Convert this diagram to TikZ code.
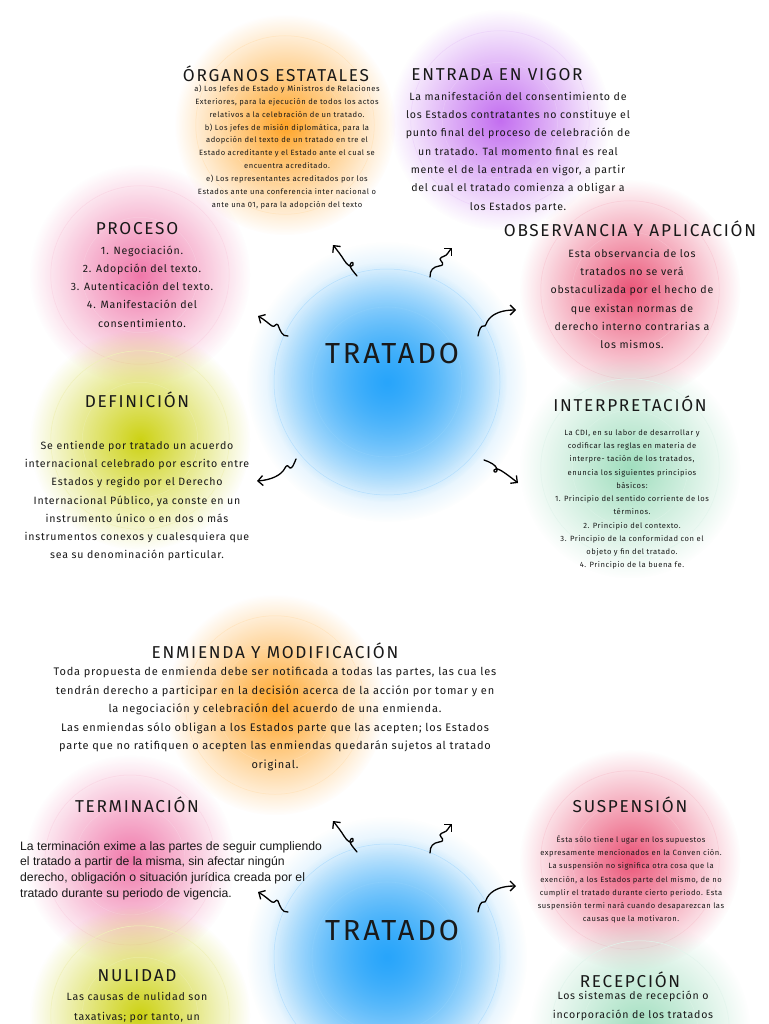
\documentclass[tikz,border=0pt]{standalone}
\usepackage{fontspec}
\setmainfont{Fira Sans}
\newfontfamily\ttlfont[LetterSpace=10]{Fira Sans}
\newfontfamily\bdyfont[LetterSpace=7]{Fira Sans}
\newfontfamily\arialfont{Liberation Sans}
\usetikzlibrary{arrows.meta,fadings}
\tikzfading[name=blobfade, inner color=transparent!0, outer color=transparent!100]
\definecolor{orgC}{RGB}{255,165,40}
\definecolor{entC}{RGB}{195,110,240}
\definecolor{proC}{RGB}{240,120,170}
\definecolor{obsC}{RGB}{235,85,120}
\definecolor{defC}{RGB}{205,210,20}
\definecolor{intC}{RGB}{160,222,190}
\definecolor{hubC}{RGB}{40,165,250}
\definecolor{txtC}{RGB}{25,25,25}
\newcommand\myblob[4]{%
  \fill[#4, path fading=blobfade] (#1,#2) circle[radius={1.05*#3pt}];
  \draw[#4!40, line width=0.5pt] (#1,#2) circle[radius={0.55*#3pt}];
  \draw[#4!30, line width=0.5pt] (#1,#2) circle[radius={0.85*#3pt}];
}
\tikzset{
  ttl/.style={font=\ttlfont\fontsize{17.2}{18}\selectfont, inner sep=0pt, text=txtC},
  bigttl/.style={font=\ttlfont\fontsize{29}{32}\selectfont, inner sep=0pt, text=txtC},
  body/.style={font=\bdyfont\fontsize{10.6}{18.3}\selectfont, align=center, inner sep=0pt, text=txtC},
  smallbody/.style={font=\bdyfont\fontsize{7.6}{12.9}\selectfont, align=center, inner sep=0pt, text=txtC},
  arialbody/.style={font=\arialfont\fontsize{12.2}{15.8}\selectfont, align=left, inner sep=0pt, text=txtC},
  sq/.style={draw=black, line width=1.3pt, line cap=round, line join=round, -{Straight Barb[length=5pt,width=10pt]}},
}
\begin{document}
\begin{tikzpicture}[x=1pt,y=-1pt]
\useasboundingbox (0,0) rectangle (768,1024);
\clip (0,0) rectangle (768,1024);
\fill[white] (0,0) rectangle (768,1024);
% ---------- blobs ----------
\myblob{285}{125}{105}{orgC}
\myblob{500}{120}{105}{entC}
\myblob{140}{275}{105}{proC}
\myblob{630}{290}{105}{obsC}
\myblob{140}{440}{105}{defC}
\myblob{630}{468}{105}{intC}
\myblob{275}{705}{105}{orgC}
\myblob{130}{860}{100}{proC}
\myblob{630}{860}{105}{obsC}
\myblob{140}{1015}{105}{defC}
\myblob{640}{1030}{105}{intC}
% hubs
\fill[hubC!70, path fading=blobfade] (387,382) circle[radius=140pt];
\fill[hubC, path fading=blobfade] (387,382) circle[radius=120pt];
\draw[hubC!55, line width=0.6pt] (387,382) circle[radius=75pt];
\draw[hubC!35, line width=0.5pt] (387,382) circle[radius=113pt];
\fill[hubC!70, path fading=blobfade] (387,957) circle[radius=140pt];
\fill[hubC, path fading=blobfade] (387,957) circle[radius=120pt];
\draw[hubC!55, line width=0.6pt] (387,957) circle[radius=75pt];
\draw[hubC!35, line width=0.5pt] (387,957) circle[radius=113pt];
% ---------- hub nodes ----------
\node[bigttl] (hub1) at (392,354) {TRATADO};
\node[bigttl] (hub2) at (392,930) {TRATADO};
% ---------- titles ----------
\node[ttl] (orgT) at (276,74) {ÓRGANOS ESTATALES};
\node[ttl] (entT) at (497,75) {ENTRADA EN VIGOR};
\node[ttl] (proT) at (137,229) {PROCESO};
\node[ttl] (obsT) at (630,229) {OBSERVANCIA Y APLICACIÓN};
\node[ttl] (defT) at (137,400) {DEFINICIÓN};
\node[ttl] (intT) at (630,404) {INTERPRETACIÓN};
\node[ttl] (enmT) at (275,651) {ENMIENDA Y MODIFICACIÓN};
\node[ttl] (terT) at (137,805) {TERMINACIÓN};
\node[ttl] (susT) at (630,805) {SUSPENSIÓN};
\node[ttl] (nulT) at (137,976) {NULIDAD};
\node[ttl] (recT) at (630,980) {RECEPCIÓN};
% ---------- bodies ----------
\node[smallbody] (orgB) at (287,147) {a) Los Jefes de Estado y Ministros de Relaciones\\
Exteriores, para la ejecución de todos los actos\\
relativos a la celebración de un tratado.\\
b) Los jefes de misión diplomática, para la\\
adopción del texto de un tratado en tre el\\
Estado acreditante y el Estado ante el cual se\\
encuentra acreditado.\\
e) Los representantes acreditados por los\\
Estados ante una conferencia inter nacional o\\
ante una 01, para la adopción del texto};
\node[body] (entB) at (518,152) {La manifestación del consentimiento de\\
los Estados contratantes no constituye el\\
punto final del proceso de celebración de\\
un tratado. Tal momento final es real\\
mente el de la entrada en vigor, a partir\\
del cual el tratado comienza a obligar a\\
los Estados parte.};
\node[body] (proB) at (142,286.5) {1. Negociación.\\
2. Adopción del texto.\\
3. Autenticación del texto.\\
4. Manifestación del\\
consentimiento.};
\node[body] (obsB) at (632,299) {Esta observancia de los\\
tratados no se verá\\
obstaculizada por el hecho de\\
que existan normas de\\
derecho interno contrarias a\\
los mismos.};
\node[body] (defB) at (137,501) {Se entiende por tratado un acuerdo\\
internacional celebrado por escrito entre\\
Estados y regido por el Derecho\\
Internacional Público, ya conste en un\\
instrumento único o en dos o más\\
instrumentos conexos y cualesquiera que\\
sea su denominación particular.};
\node[smallbody, font=\bdyfont\fontsize{7.6}{13.25}\selectfont] (intB) at (632,499.5) {La CDI, en su labor de desarrollar y\\
codificar las reglas en materia de\\
interpre- tación de los tratados,\\
enuncia los siguientes principios\\
básicos:\\
1. Principio del sentido corriente de los\\
términos.\\
2. Principio del contexto.\\
3. Principio de la conformidad con el\\
objeto y fin del tratado.\\
4. Principio de la buena fe.};
\node[body, font=\bdyfont\fontsize{11}{18.5}\selectfont] (enmB) at (275,719) {Toda propuesta de enmienda debe ser notificada a todas las partes, las cua les\\
tendrán derecho a participar en la decisión acerca de la acción por tomar y en\\
la negociación y celebración del acuerdo de una enmienda.\\
Las enmiendas sólo obligan a los Estados parte que las acepten; los Estados\\
parte que no ratifiquen o acepten las enmiendas quedarán sujetos al tratado\\
original.};
\node[arialbody, anchor=west] (terB) at (20,870.5) {La terminación exime a las partes de seguir cumpliendo\\
el tratado a partir de la misma, sin afectar ningún\\
derecho, obligación o situación jurídica creada por el\\
tratado durante su periodo de vigencia.};
\node[smallbody, font=\bdyfont\fontsize{7.6}{13.2}\selectfont] (susB) at (631,879.5) {Ésta sólo tiene l ugar en los supuestos\\
expresamente mencionados en la Conven ción.\\
La suspensión no significa otra cosa que la\\
exención, a los Estados parte del mismo, de no\\
cumplir el tratado durante cierto periodo. Esta\\
suspensión termi nará cuando desaparezcan las\\
causas que la motivaron.};
\node[body, font=\bdyfont\fontsize{10.6}{20}\selectfont, anchor=north] (nulB) at (137,992) {Las causas de nulidad son\\
taxativas; por tanto, un};
\node[body, font=\bdyfont\fontsize{10.6}{19}\selectfont, anchor=north] (recB) at (633,991) {Los sistemas de recepción o\\
incorporación de los tratados};
% ---------- squiggly arrows (top hub) ----------
\coordinate (a1s) at (357,276); \coordinate (a1e) at (333,245);
\coordinate (a2s) at (430,277); \coordinate (a2e) at (452,248);
\coordinate (a3s) at (478,336); \coordinate (a3e) at (516,310);
\coordinate (a4s) at (288,336); \coordinate (a4e) at (258,316);
\coordinate (a5s) at (296,459); \coordinate (a5e) at (257,481);
\coordinate (a6s) at (484,460); \coordinate (a6e) at (518,483);
\draw[sq] (a1s) .. controls (353,271) and (350,268) .. (350,265) .. controls (351,261) and (354,262) .. (353,265) .. controls (351,268) and (347,265) .. (344,260) .. controls (341,255) and (337,250) .. (a1e);
\draw[sq] (a2s) .. controls (430,270) and (433,267) .. (439,266) .. controls (447,265) and (440,261) .. (440,259) .. controls (441,256) and (446,257) .. (448,253) .. controls (449,251) and (451,249) .. (a2e);
\draw[sq] (a3s) .. controls (479,330) and (481,325) .. (484,326) .. controls (486,327) and (486,322) .. (489,319) .. controls (494,313) and (503,310) .. (a3e);
\draw[sq] (a4s) .. controls (282,337) and (280,330) .. (278,325) .. controls (276,322) and (275,328) .. (272,326) .. controls (269,324) and (265,320) .. (a4e);
\draw[sq] (a5s) .. controls (294,464) and (292,469) .. (290,468) .. controls (288,466) and (287,464) .. (285,468) .. controls (281,476) and (270,480) .. (a5e);
\draw[sq] (a6s) .. controls (490,462) and (496,465) .. (497,469) .. controls (498,473) and (493,473) .. (494,470) .. controls (496,466) and (504,472) .. (a6e);
% ---------- squiggly arrows (bottom hub) ----------
\coordinate (b1s) at (357,852); \coordinate (b1e) at (333,821);
\coordinate (b2s) at (430,853); \coordinate (b2e) at (452,824);
\coordinate (b3s) at (478,912); \coordinate (b3e) at (516,886);
\coordinate (b4s) at (288,912); \coordinate (b4e) at (258,892);
\draw[sq] (b1s) .. controls (353,847) and (350,844) .. (350,841) .. controls (351,837) and (354,838) .. (353,841) .. controls (351,844) and (347,841) .. (344,836) .. controls (341,831) and (337,826) .. (b1e);
\draw[sq] (b2s) .. controls (430,846) and (433,843) .. (439,842) .. controls (447,841) and (440,837) .. (440,835) .. controls (441,832) and (446,833) .. (448,829) .. controls (449,827) and (451,825) .. (b2e);
\draw[sq] (b3s) .. controls (479,906) and (481,901) .. (484,902) .. controls (486,903) and (486,898) .. (489,895) .. controls (494,889) and (503,886) .. (b3e);
\draw[sq] (b4s) .. controls (282,913) and (280,906) .. (278,901) .. controls (276,898) and (275,904) .. (272,902) .. controls (269,900) and (265,896) .. (b4e);
\end{tikzpicture}
\end{document}
